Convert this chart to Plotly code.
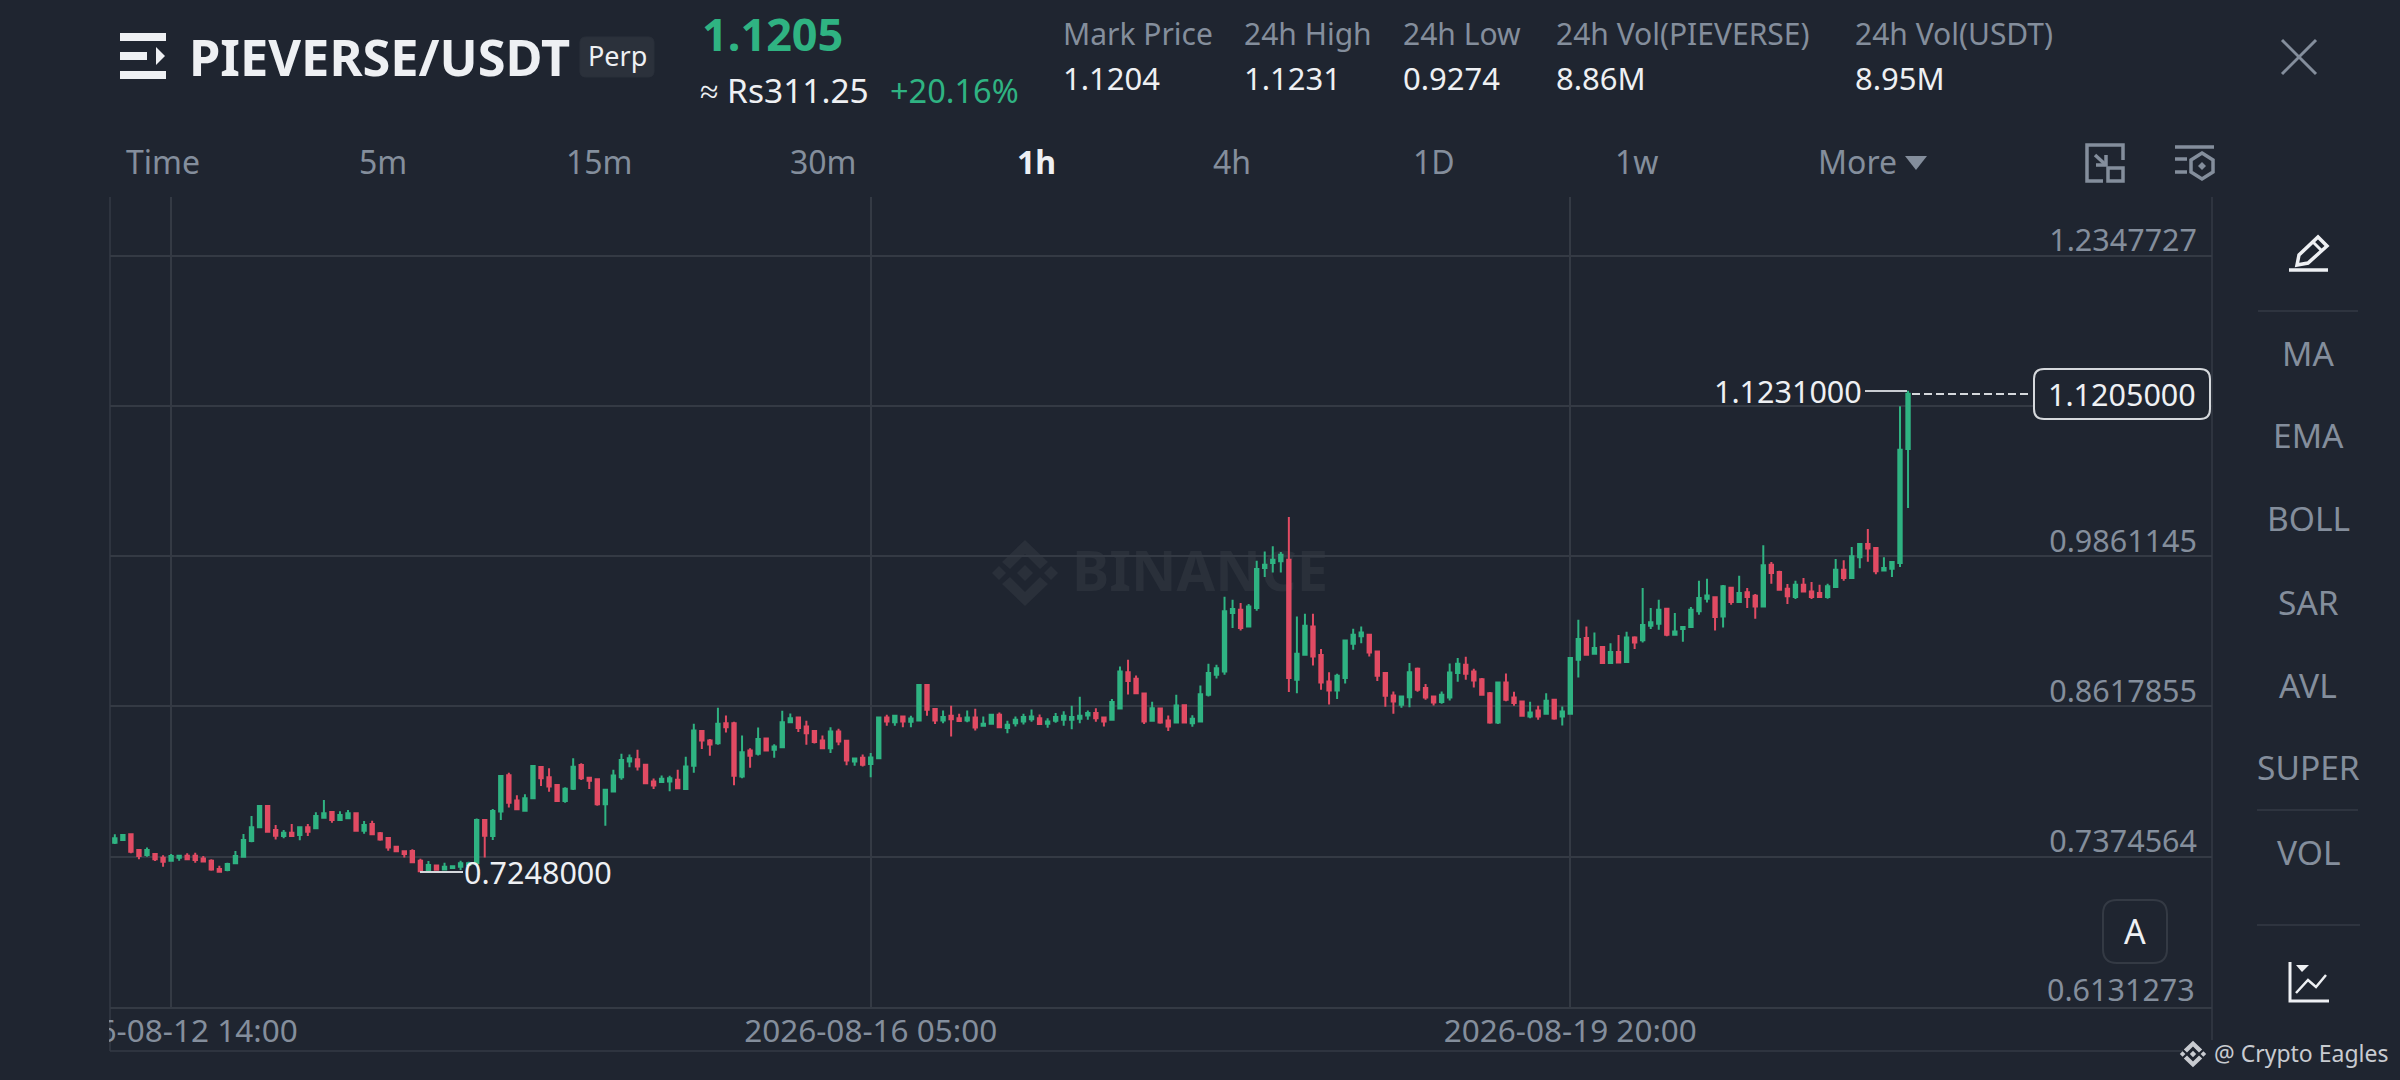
import pandas as pd
import plotly.graph_objects as go

open_ = [
.7491,.7513,.7560,.7430,.7389,.7397,.7367,.7342,.7367,.7383,
.7383,.7361,.7342,.7273,.7265,.7320,.7375,.7505,.7618,.7795,
.7596,.7546,.7574,.7554,.7618,.7610,.7698,.7745,.7679,.7692,
.7734,.7590,.7645,.7568,.7530,.7458,.7419,.7422,.7342,.7259,
.7303,.7270,.7281,.7292,.7306,.7320,.7679,.7546,.7748,.8048,
.7839,.7756,.7858,.8117,.8032,.7968,.7836,.7938,.8134,.8029,
.8015,.7809,.7914,.8033,.8163,.8182,.8135,.7997,.7992,.7997,
.8011,.7936,.8127,.8414,.8337,.8314,.8480,.8480,.8038,.8254,
.8226,.8353,.8259,.8281,.8488,.8527,.8452,.8414,.8337,.8273,
.8411,.8334,.8163,.8193,.8141,.8190,.8527,.8488,.8535,.8491,
.8502,.8795,.8596,.8502,.8541,.8521,.8502,.8527,.8458,.8475,
.8549,.8439,.8480,.8494,.8513,.8521,.8475,.8499,.8508,.8508,
.8516,.8544,.8563,.8527,.8508,.8601,.8902,.8847,.8725,.8499,
.8601,.8502,.8486,.8629,.8480,.8494,.8715,.8880,.8908,.9391,
.9418,.9280,.9432,.9763,.9805,.9819,.9832,.8839,.9046,.9280,
.9043,.8825,.8750,.8853,.9137,.9198,.9211,.9073,.8894,.8709,
.8632,.8695,.8930,.8770,.8701,.8654,.8692,.8894,.8963,.8908,
.8844,.8728,.8486,.8817,.8692,.8659,.8535,.8585,.8557,.8673,
.8535,.8557,.9004,.9184,.9054,.9109,.8977,.9068,.8985,.9189,
.9165,.9286,.9302,.9427,.9211,.9258,.9275,.9405,.9510,.9521,
.9363,.9601,.9482,.9562,.9534,.9446,.9791,.9730,.9592,.9523,
.9625,.9570,.9556,.9523,.9606,.9750,.9681,.9852,.9962,.9929,
.9744,.9758,.9805,1.0749]

close = [
.7527,.7554,.7416,.7381,.7430,.7353,.7334,.7381,.7383,.7353,
.7347,.7336,.7270,.7251,.7314,.7381,.7513,.7618,.7795,.7582,
.7549,.7574,.7546,.7618,.7582,.7712,.7734,.7679,.7720,.7734,
.7590,.7637,.7560,.7518,.7452,.7419,.7397,.7328,.7254,.7306,
.7267,.7292,.7295,.7320,.7320,.7679,.7549,.7753,.8043,.7822,
.7767,.7858,.8126,.8024,.7955,.7836,.7938,.8120,.8024,.8004,
.7808,.7928,.8047,.8176,.8190,.8121,.7983,.7964,.8019,.8025,
.7942,.8121,.8419,.8337,.8303,.8475,.8447,.8044,.8240,.8210,
.8348,.8254,.8287,.8488,.8521,.8439,.8397,.8323,.8273,.8411,
.8328,.8171,.8187,.8135,.8196,.8527,.8494,.8541,.8494,.8519,
.8795,.8590,.8502,.8530,.8513,.8497,.8527,.8444,.8475,.8549,
.8447,.8466,.8508,.8530,.8535,.8472,.8494,.8530,.8541,.8530,
.8541,.8563,.8521,.8494,.8654,.8908,.8828,.8728,.8494,.8604,
.8486,.8452,.8626,.8486,.8516,.8720,.8894,.8935,.9405,.9424,
.9267,.9446,.9755,.9791,.9832,.9874,.8853,.9054,.9286,.9032,
.8817,.8750,.8872,.9164,.9211,.9231,.9065,.8872,.8706,.8659,
.8701,.8902,.8756,.8692,.8651,.8715,.8899,.8971,.8889,.8833,
.8715,.8486,.8817,.8673,.8646,.8541,.8568,.8535,.8665,.8519,
.8577,.9018,.9176,.9046,.9101,.8977,.9068,.8982,.9189,.9148,
.9291,.9314,.9418,.9211,.9239,.9275,.9418,.9515,.9537,.9358,
.9612,.9482,.9556,.9523,.9446,.9786,.9722,.9584,.9529,.9625,
.9570,.9523,.9523,.9612,.9750,.9681,.9860,.9962,.9924,.9736,
.9763,.9813,1.0743,1.1205]

high = [
.7560,.7560,.7560,.7438,.7452,.7403,.7386,.7397,.7389,.7403,
.7408,.7381,.7353,.7300,.7325,.7422,.7563,.7712,.7795,.7795,
.7637,.7596,.7645,.7623,.7645,.7742,.7844,.7753,.7750,.7761,
.7742,.7670,.7673,.7579,.7538,.7466,.7422,.7436,.7358,.7339,
.7311,.7325,.7297,.7342,.7334,.7690,.7684,.7770,.8048,.8070,
.7883,.7891,.8131,.8120,.8106,.7977,.7949,.8189,.8148,.8032,
.8024,.7936,.8094,.8226,.8221,.8259,.8143,.8022,.8047,.8044,
.8094,.8201,.8475,.8419,.8348,.8607,.8544,.8491,.8378,.8273,
.8444,.8359,.8306,.8582,.8560,.8535,.8499,.8419,.8378,.8447,
.8433,.8342,.8196,.8221,.8232,.8532,.8549,.8549,.8544,.8541,
.8795,.8795,.8601,.8585,.8624,.8557,.8585,.8599,.8535,.8555,
.8568,.8499,.8535,.8557,.8593,.8552,.8521,.8563,.8579,.8624,
.8698,.8585,.8604,.8530,.8679,.8949,.9004,.8875,.8728,.8657,
.8607,.8544,.8715,.8629,.8546,.8792,.8971,.8963,.9526,.9501,
.9474,.9465,.9824,.9901,.9943,.9896,1.0186,.9363,.9385,.9385,
.9093,.8902,.8889,.9170,.9261,.9280,.9217,.9079,.8902,.8742,
.8706,.8977,.8941,.8803,.8706,.8742,.8974,.9018,.9029,.8930,
.8853,.8737,.8825,.8891,.8739,.8668,.8657,.8624,.8728,.8679,
.8618,.9026,.9336,.9280,.9231,.9115,.9142,.9209,.9236,.9198,
.9598,.9432,.9501,.9432,.9391,.9280,.9440,.9659,.9675,.9529,
.9623,.9606,.9700,.9598,.9548,.9951,.9813,.9741,.9631,.9659,
.9681,.9648,.9625,.9634,.9838,.9827,.9937,.9968,1.0086,.9935,
.9852,.9821,1.1102,1.1231]

low = [
.7480,.7505,.7403,.7353,.7375,.7339,.7292,.7334,.7342,.7347,
.7325,.7331,.7259,.7250,.7254,.7314,.7369,.7494,.7610,.7579,
.7518,.7527,.7541,.7510,.7546,.7604,.7692,.7656,.7670,.7684,
.7585,.7565,.7554,.7507,.7425,.7414,.7369,.7323,.7248,.7251,
.7262,.7265,.7278,.7265,.7306,.7306,.7369,.7513,.7679,.7781,
.7761,.7750,.7852,.7960,.7913,.7828,.7822,.7927,.8010,.7935,
.7797,.7630,.7909,.8011,.8116,.8088,.7978,.7936,.7989,.7917,
.7936,.7931,.8069,.8265,.8210,.8301,.8403,.7967,.8025,.8110,
.8212,.8245,.8193,.8276,.8480,.8406,.8301,.8312,.8270,.8232,
.8298,.8132,.8127,.8121,.8033,.8187,.8458,.8458,.8447,.8447,
.8497,.8541,.8472,.8480,.8370,.8494,.8488,.8419,.8455,.8469,
.8441,.8397,.8452,.8469,.8491,.8466,.8441,.8483,.8458,.8430,
.8480,.8508,.8491,.8452,.8499,.8596,.8717,.8723,.8472,.8494,
.8474,.8414,.8480,.8480,.8450,.8491,.8701,.8850,.8880,.9267,
.9247,.9275,.9410,.9689,.9727,.9727,.8737,.8728,.9040,.8957,
.8756,.8635,.8679,.8808,.9087,.9142,.9032,.8828,.8615,.8557,
.8607,.8612,.8739,.8673,.8626,.8640,.8668,.8822,.8839,.8775,
.8706,.8474,.8472,.8662,.8624,.8532,.8521,.8508,.8555,.8508,
.8461,.8549,.8858,.9038,.9046,.8971,.8971,.8977,.8977,.9093,
.9148,.9258,.9253,.9198,.9203,.9153,.9269,.9377,.9479,.9247,
.9272,.9460,.9474,.9432,.9344,.9443,.9634,.9576,.9465,.9507,
.9562,.9507,.9521,.9510,.9601,.9659,.9672,.9761,.9816,.9711,
.9739,.9689,.9772,1.0260]

assert len(open_) == len(close) == len(high) == len(low) == 224

times = pd.date_range("2026-08-12 07:00", periods=len(open_), freq="h")
price_ticks = [0.6131273, 0.7374564, 0.8617855, 0.9861145, 1.1104436, 1.2347727]
price_labels = ["", "0.7374564", "0.8617855", "0.9861145", "", "1.2347727"]
time_ticks = ["2026-08-12 14:00", "2026-08-16 05:00", "2026-08-19 20:00"]
timeframes = ["Time", "5m", "15m", "30m", "1h", "4h", "1D", "1w", "More"]
indicators = ["MA", "EMA", "BOLL", "SAR", "AVL", "SUPER", "VOL"]
stat_names = ["Mark Price", "24h High", "24h Low", "24h Vol(PIEVERSE)", "24h Vol(USDT)"]
stat_values = ["1.1204", "1.1231", "0.9274", "8.86M", "8.95M"]

BG = "#1F2530"
GRID = "#343A44"
MUTED = "#848E9C"
WHITE = "#EEF0F3"
GREEN = "#2FB382"
RED = "#E14B63"
FONT = "Noto Sans"
L, R, T, B = 110, 2212, 197, 1007
W, H = 2400, 1080


def fx(x):
    return (x - L) / (R - L)


def fy(y):
    return (B - y) / (B - T)


def path(pts, closed=False):
    s = "M " + " L ".join(f"{fx(x):.5f},{fy(y):.5f}" for x, y in pts)
    return s + (" Z" if closed else "")


shapes = []


def poly(pts, color=None, fill=None, width=2.5, closed=False, dash=None, layer="above"):
    shapes.append(dict(type="path", xref="paper", yref="paper", path=path(pts, closed), layer=layer,
                       fillcolor=fill or "rgba(0,0,0,0)",
                       line=dict(color=color or "rgba(0,0,0,0)", width=width if color else 0, dash=dash)))


def box(x0, y0, x1, y1, color=None, fill=None, width=2.5, layer="above"):
    shapes.append(dict(type="rect", xref="paper", yref="paper", x0=fx(x0), x1=fx(x1), y0=fy(y0), y1=fy(y1),
                       layer=layer, fillcolor=fill or "rgba(0,0,0,0)",
                       line=dict(color=color or "rgba(0,0,0,0)", width=width if color else 0)))


def rounded(x0, y0, x1, y1, r, color, fill=None, width=2.5):
    s = (f"M {fx(x0+r):.5f},{fy(y0):.5f} L {fx(x1-r):.5f},{fy(y0):.5f} "
         f"Q {fx(x1):.5f},{fy(y0):.5f} {fx(x1):.5f},{fy(y0+r):.5f} L {fx(x1):.5f},{fy(y1-r):.5f} "
         f"Q {fx(x1):.5f},{fy(y1):.5f} {fx(x1-r):.5f},{fy(y1):.5f} L {fx(x0+r):.5f},{fy(y1):.5f} "
         f"Q {fx(x0):.5f},{fy(y1):.5f} {fx(x0):.5f},{fy(y1-r):.5f} L {fx(x0):.5f},{fy(y0+r):.5f} "
         f"Q {fx(x0):.5f},{fy(y0):.5f} {fx(x0+r):.5f},{fy(y0):.5f} Z")
    shapes.append(dict(type="path", xref="paper", yref="paper", path=s, layer="above",
                       fillcolor=fill or "rgba(0,0,0,0)", line=dict(color=color, width=width)))


def logo(cx, cy, s, color, layer):
    top = [(0, -33), (23, -11), (15, -4), (0, -19), (-15, -4), (-23, -11)]
    poly([(cx + a * s, cy + b * s) for a, b in top], fill=color, closed=True, layer=layer)
    poly([(cx + a * s, cy - b * s) for a, b in top], fill=color, closed=True, layer=layer)
    for dx, r in [(0, 8), (-26, 7), (26, 7)]:
        poly([(cx + (dx + r) * s, cy), (cx + dx * s, cy + r * s), (cx + (dx - r) * s, cy), (cx + dx * s, cy - r * s)],
             fill=color, closed=True, layer=layer)


annots = []


def text(x, y, s, size, color=MUTED, anchor="center", bold=False, family=FONT):
    t = f"<b>{s}</b>" if bold else s
    annots.append(dict(xref="paper", yref="paper", x=fx(x), y=fy(y - 1.5), text=t, showarrow=False,
                       xanchor=anchor, yanchor="middle", align=anchor,
                       font=dict(family=family, size=size, color=color)))


# frame
poly([(L, T), (L, 1051)], GRID, width=1.5, layer="below")
poly([(R, T), (R, 1040)], GRID, width=1.5, layer="below")
poly([(L, 1051), (2183, 1051)], GRID, width=1.5, layer="below")

# mask that clips the left tick label at the chart edge
box(0, 1010, L - 1, 1050, fill=BG)

# watermark
wm = "#2A303A"
shapes.append(dict(type="rect", xref="paper", yref="paper", x0=fx(1060), x1=fx(1340), y0=fy(550), y1=fy(595),
                   layer="below", fillcolor="rgba(0,0,0,0)", line=dict(width=0),
                   label=dict(text="<b>BINANCE</b>", textposition="middle center",
                              font=dict(family=FONT, size=56, color=wm))))
logo(1025, 573, 1, wm, "below")

# high / low / last price leaders
poly([(1865, 391), (1907, 391)], "#C9CCD2", width=2)
poly([(420, 872), (463, 872)], "#D5D8DC", width=2)
poly([(1912, 394), (2032, 394)], "#D5D8DC", width=2, dash="8px,4px")
rounded(2034, 369, 2210, 419, 10, "#D5D8DC", fill=BG, width=2)

text(1864, 392, "1.1231000", 30.5, WHITE, "right")
text(462, 873, "0.7248000", 30.5, WHITE, "left")
text(2122, 395, "1.1205000", 30.5, WHITE)
text(2197, 990.5, "0.6131273", 30.5, MUTED, "right")

# header
box(120, 33, 166, 41, fill=WHITE)
box(120, 71, 166, 79, fill=WHITE)
box(120, 52, 147, 60, fill=WHITE)
poly([(156, 47), (165, 56), (156, 65)], fill=WHITE, closed=True)
text(187, 58, "PIEVERSE/USDT", 50.5, WHITE, "left", bold=True)
rounded(580, 37, 654, 77, 6, "#2B313B", fill="#2B313B", width=1)
text(617, 57, "Perp", 27, WHITE)
text(700, 35, "1.1205", 45, GREEN, "left", bold=True)
text(698, 92, "≈ Rs311.25", 33.5, WHITE, "left")
text(888, 92, "+20.16%", 32.5, GREEN, "left")

for x, name, value in zip([1061, 1242, 1401, 1554, 1853], stat_names, stat_values):
    text(x, 35, name, 30, MUTED, "left")
    text(x, 80, value, 31, WHITE, "left")

poly([(2282, 40), (2316, 74)], MUTED, width=3)
poly([(2316, 40), (2282, 74)], MUTED, width=3)

# timeframe row
for x, name in zip([163, 383, 599, 823, 1036, 1232, 1434, 1636, 1857], timeframes):
    active = name == "1h"
    text(x, 163, name, 32, WHITE if active else MUTED, bold=active)
poly([(1905, 156), (1927, 156), (1916, 170)], fill=MUTED, closed=True)

# toolbar icons
poly([(2103, 181), (2087, 181), (2087, 145), (2123, 145), (2123, 160)], MUTED, width=3.5)
poly([(2095, 155), (2106, 165)], MUTED, width=3.5)
poly([(2106, 155), (2106, 165), (2096, 165)], MUTED, width=3.5)
box(2108, 168, 2123, 181, MUTED, width=3.5)
poly([(2175, 147), (2214, 147)], MUTED, width=3.5)
poly([(2175, 159), (2187, 159)], MUTED, width=3.5)
poly([(2175, 172), (2187, 172)], MUTED, width=3.5)
poly([(2202, 153), (2213, 160), (2213, 172), (2202, 179), (2191, 172), (2191, 160)], MUTED, width=3.5, closed=True)
poly([(2202, 162), (2206, 166), (2202, 170), (2198, 166)], fill=MUTED, closed=True)

# right toolbar
poly([(2289, 270), (2328, 270)], WHITE, width=3.5)
poly([(2297, 265), (2299, 255), (2318, 237), (2327, 246), (2308, 263)], WHITE, width=3.5, closed=True)
poly([(2313, 242), (2322, 251)], WHITE, width=3)
poly([(2258, 311), (2358, 311)], GRID, width=1.5)
for y, name in zip([354, 436, 519, 603, 686, 768, 853], indicators):
    text(2308, y, name, 33.5, MUTED)
poly([(2257, 810), (2358, 810)], GRID, width=1.5)
poly([(2257, 925), (2360, 925)], GRID, width=1.5)
rounded(2103, 900, 2167, 963, 14, "#343A44", width=2)
text(2135, 932, "A", 34, WHITE)
poly([(2290, 962), (2290, 1001), (2329, 1001)], WHITE, width=3)
poly([(2296, 993), (2308, 980), (2316, 987), (2326, 975)], WHITE, width=2.5)
poly([(2296, 965), (2309, 965), (2302, 972)], fill=WHITE, closed=True)

# attribution
sig = "#C8CBD0"
logo(2193, 1054, 0.4, sig, "above")
text(2212, 1054, "@ Crypto Eagles", 23, sig, "left")

fig = go.Figure(go.Candlestick(
    x=times, open=open_, high=high, low=low, close=close,
    increasing=dict(line=dict(color=GREEN, width=2), fillcolor=GREEN),
    decreasing=dict(line=dict(color=RED, width=2), fillcolor=RED),
    whiskerwidth=0, showlegend=False,
))
fig.update_layout(
    width=W, height=H, paper_bgcolor=BG, plot_bgcolor=BG, showlegend=False, boxgap=0.4,
    margin=dict(l=L, r=W - R, t=T, b=H - B, pad=0),
    font=dict(family=FONT, color=MUTED),
    shapes=shapes, annotations=annots,
    xaxis=dict(
        type="date", range=["2026-08-12 06:24", "2026-08-23 03:48"], rangeslider=dict(visible=False),
        tickmode="array", tickvals=time_ticks, tickformat="%Y-%m-%d %H:%M", showgrid=True,
        gridcolor=GRID, gridwidth=1.5, showline=True, linecolor=GRID, linewidth=1.5, zeroline=False,
        ticks="", tickfont=dict(family=FONT, size=31.5, color=MUTED), ticklabelstandoff=-5,
    ),
    yaxis=dict(
        side="right", range=[0.6131273, 1.28334], tickmode="array", tickvals=price_ticks, ticktext=price_labels,
        showgrid=True, gridcolor=GRID, gridwidth=1.5, zeroline=False, showline=False, ticks="",
        ticklabelposition="inside", ticklabelshift=-15, ticklabelstandoff=12,
        tickfont=dict(family=FONT, size=30.5, color=MUTED),
    ),
)
fig.write_html("out.html", post_script="document.body.style.margin='0';document.body.style.overflow='hidden';",
               config={"displayModeBar": False})
